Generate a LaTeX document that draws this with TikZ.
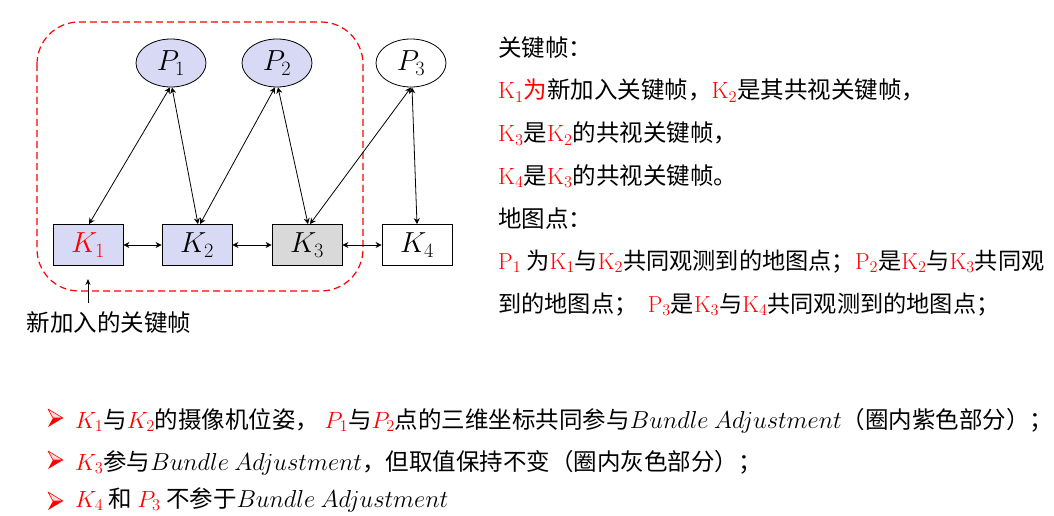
\RequirePackage{fix-cm}
\documentclass[tikz,border=0pt]{standalone}
\usepackage[no-math]{fontspec}
\setmainfont{Noto Sans CJK SC}
\usetikzlibrary{arrows.meta,shapes.geometric}
\definecolor{lav}{RGB}{216,217,245}
\definecolor{kgray}{RGB}{217,217,217}
\definecolor{myred}{RGB}{255,0,0}
\newcommand{\rK}[1]{\textcolor{myred}{$\mathrm{K}_{#1}$}}
\newcommand{\rP}[1]{\textcolor{myred}{$\mathrm{P}_{#1}$}}
\newcommand{\iK}[1]{\textcolor{myred}{$K_{#1}$}}
\newcommand{\iP}[1]{\textcolor{myred}{$P_{#1}$}}
\newcommand{\BA}{{\fontsize{24.5}{28}\selectfont$Bundle\ Adjustment$}}
\begin{document}
\begin{tikzpicture}[x=1pt,y=-1pt,
  kbox/.style={draw,line width=0.8pt,minimum width=70pt,minimum height=41pt,inner sep=0pt,font=\fontsize{29}{31}\selectfont},
  pell/.style={draw,ellipse,line width=0.8pt,minimum width=70pt,minimum height=48pt,inner sep=0pt,font=\fontsize{29}{31}\selectfont},
  link/.style={line width=0.8pt,{Stealth[length=6pt,width=6pt]}-{Stealth[length=6pt,width=6pt]}},
  txt/.style={anchor=base west,inner sep=0pt,font=\fontsize{23.5}{26}\selectfont}]
\useasboundingbox (0,0) rectangle (1054,516);
% dashed region
\draw[myred,dashed,line width=1.2pt,dash pattern=on 7pt off 4pt,rounded corners=42pt] (37,22) rectangle (363,291);
% key frames
\node[kbox,fill=lav] (K1) at (88,245) {\textcolor{myred}{$K_1$}};
\node[kbox,fill=lav] (K2) at (197,245) {$K_2$};
\node[kbox,fill=kgray] (K3) at (307,245) {$K_3$};
\node[kbox,fill=white] (K4) at (417,245) {$K_4$};
% map points
\node[pell,fill=lav] (P1) at (171,63) {$P_1$};
\node[pell,fill=lav] (P2) at (277,63) {$P_2$};
\node[pell,fill=white] (P3) at (411,63) {$P_3$};
% links
\draw[link] ([xshift=-1pt]P1.south) -- ([xshift=1pt]K1.north);
\draw[link] ([xshift=1pt]P1.south) -- ([xshift=1pt]K2.north);
\draw[link] ([xshift=-2pt]P2.south) -- ([xshift=3pt]K2.north);
\draw[link] ([xshift=1pt]P2.south) -- ([xshift=1pt]K3.north);
\draw[link] ([xshift=0pt]P3.south) -- ([xshift=3pt]K3.north);
\draw[link] ([xshift=1pt]P3.south) -- ([xshift=0pt]K4.north);
\draw[link] (K1) -- (K2);
\draw[link] (K2) -- (K3);
\draw[link] (K3) -- (K4);
% new key frame label
\node[inner sep=0pt,font=\fontsize{23.5}{26}\selectfont] (newlab) at (109,323) {新加入的关键帧};
\coordinate (arrS) at (88,303);
\coordinate (arrE) at (88,279);
\draw[line width=0.8pt,-{Stealth[length=6pt,width=5pt]}] (arrS) -- (arrE);
% right text
\node[txt] (r1) at (498,57) {关键帧：};
\node[txt] (r2) at (498,99) {\rK{1}\textcolor{myred}{为}新加入关键帧，\rK{2}是其共视关键帧，};
\node[txt] (r3) at (498,142) {\rK{3}是\rK{2}的共视关键帧，};
\node[txt] (r4) at (498,184) {\rK{4}是\rK{3}的共视关键帧。};
\node[txt] (r5) at (498,227) {地图点：};
\node[txt,font=\fontsize{23.2}{26}\selectfont] (r6) at (498,269) {\rP{1} 为\rK{1}与\rK{2}共同观测到的地图点；\rP{2}是\rK{2}与\rK{3}共同观};
\node[txt,font=\fontsize{23.2}{26}\selectfont] (r7) at (498,312) {到的地图点；\ \ \rP{3}是\rK{3}与\rK{4}共同观测到的地图点；};
% bullets
\foreach \yy/\nm in {418/b1,460/b2,501/b3}{
  \coordinate (\nm) at (48,\yy);
  \fill[myred] (48,\yy+9) -- (63,\yy) -- (53,\yy) -- cycle;
  \draw[myred,fill=myred!15,line width=0.6pt,line join=round] (48,\yy-9) -- (63,\yy) -- (53,\yy) -- cycle;
}
\node[txt] (t1) at (75,428) {\iK{1}与\iK{2}的摄像机位姿，\ \iP{1}与\iP{2}点的三维坐标共同参与\BA（圈内紫色部分）；};
\node[txt] (t2) at (75,470) {\iK{3}参与\BA，但取值保持不变（圈内灰色部分）；};
\node[txt] (t3) at (75,507) {\iK{4} 和 \iP{3} 不参于\BA};
\end{tikzpicture}
\end{document}
